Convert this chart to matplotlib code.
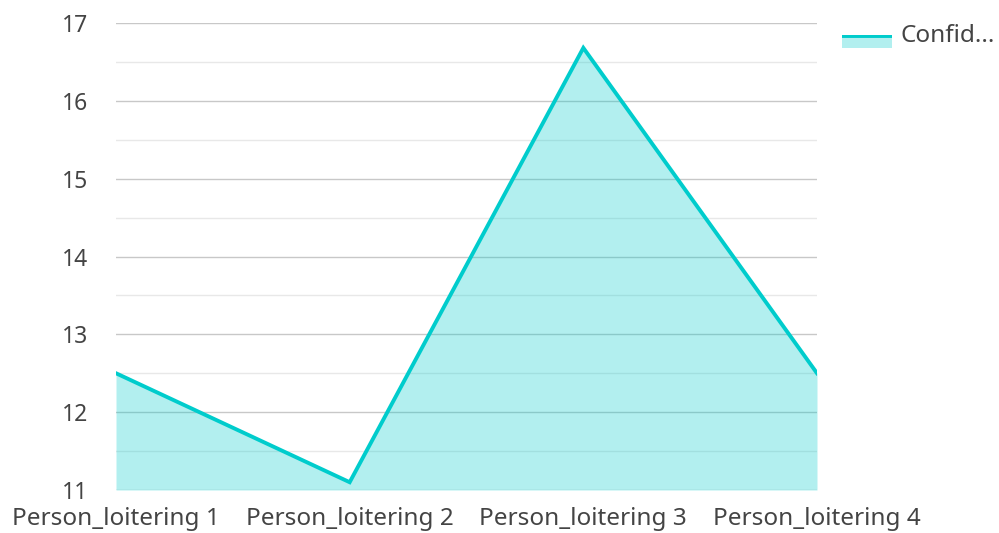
import matplotlib.pyplot as plt
import numpy as np

categories = ['Person_loitering 1', 'Person_loitering 2', 'Person_loitering 3', 'Person_loitering 4']
confidence = [12.5, 11.1, 16.68, 12.5]
series_name = 'Confid...'

plt.rcParams['font.family'] = ['Noto Sans', 'DejaVu Sans']

fig = plt.figure(figsize=(9.99, 5.33), dpi=100)
ax = fig.add_axes([116 / 999, 43 / 533, 701 / 999, 467 / 533])

x = np.arange(len(categories))
color = '#00CCCC'
ax.fill_between(x, confidence, 11, color=color, alpha=0.3, linewidth=0, zorder=2)
ax.plot(x, confidence, color=color, linewidth=2.8, zorder=3, solid_joinstyle='miter')

ax.set_xlim(0, len(categories) - 1)
ax.set_ylim(11, 17)
ax.set_yticks(range(11, 18))
ax.set_yticks(np.arange(11.5, 17, 1), minor=True)
ax.set_xticks(x)
ax.set_xticklabels(categories)

ax.grid(axis='y', which='major', color='#c8c8c8', linewidth=1, zorder=1)
ax.grid(axis='y', which='minor', color='#e8e8e8', linewidth=1, zorder=1)
ax.grid(axis='x', visible=False)
for s in ax.spines.values():
    s.set_visible(False)
ax.tick_params(axis='both', which='both', length=0, colors='#444444')
ax.tick_params(axis='y', pad=20, labelsize=16.5)
ax.tick_params(axis='x', pad=12, labelsize=17.5)

# legend drawn by hand: line above a light patch
lax = fig.add_axes([842 / 999, 485 / 533, 50 / 999, 13 / 533])
lax.set_xlim(0, 1)
lax.set_ylim(0, 1)
lax.axis('off')
lax.fill_between([0, 1], 0, 0.85, color=color, alpha=0.3, linewidth=0)
lax.plot([0, 1], [0.9, 0.9], color=color, linewidth=2.8)
fig.text(901 / 999, 1 - 36 / 533, series_name, fontsize=17.5, color='#444444', va='center', ha='left')

fig.savefig('out.png', dpi=100)
